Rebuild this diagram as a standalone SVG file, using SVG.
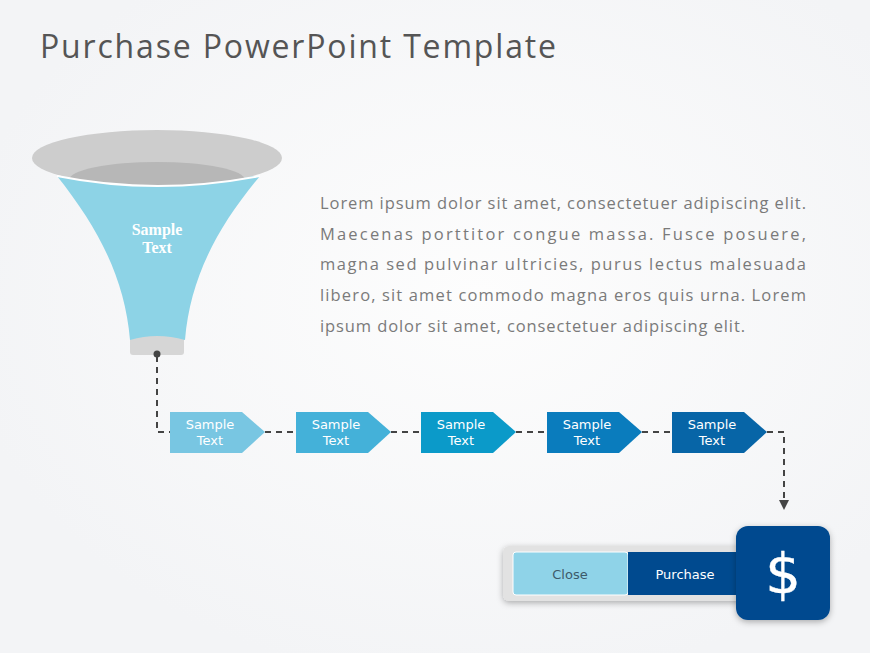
<svg xmlns="http://www.w3.org/2000/svg" width="870" height="653" viewBox="0 0 870 653">
<defs>
<style>
.t{font-family:"Open Sans","DejaVu Sans",sans-serif}
.p{font-family:"Open Sans","DejaVu Sans",sans-serif;font-size:16.5px;fill:#7a7a7a}
.a{font-family:"DejaVu Sans",sans-serif;font-size:13px;fill:#fff;text-anchor:middle}
.c{stroke:#444;stroke-width:2;stroke-dasharray:6,5;fill:none}
</style>
<radialGradient id="bg" cx="0.55" cy="0.45" r="0.6"><stop offset="0" stop-color="#fdfdfd"/><stop offset="1" stop-color="#f3f4f6"/></radialGradient>
<clipPath id="ec"><ellipse cx="157" cy="158" rx="125" ry="28"/></clipPath>
<filter id="sh" x="-20%" y="-20%" width="140%" height="140%"><feDropShadow dx="0" dy="2" stdDeviation="3" flood-color="#000" flood-opacity="0.3"/></filter>
</defs>
<rect width="870" height="653" fill="url(#bg)"/>
<text class="t" x="40" y="58" font-size="32" fill="#555" textLength="516" lengthAdjust="spacing">Purchase PowerPoint Template</text>
<g id="funnel">
<path d="M130,336 L184,336 L184,352 Q184,355 181,355 L133,355 Q130,355 130,352 Z" fill="#d6d6d6"/>
<path d="M57,176 L260,176 C215,230 190,280 185,340 Q157,332 130,340 C125,280 100,230 57,176 Z" fill="#8dd3e6"/>
<ellipse cx="157" cy="158" rx="125" ry="28" fill="#cdcdcd"/>
<ellipse cx="157" cy="180" rx="88" ry="18" fill="#b7b7b7" clip-path="url(#ec)"/>
<path d="M57,176 Q157,196 260,176" fill="none" stroke="#fff" stroke-width="2"/>
<text x="157" y="235" font-family="Liberation Serif,serif" font-weight="bold" font-size="16" fill="#fff" text-anchor="middle">Sample</text>
<text x="157" y="253" font-family="Liberation Serif,serif" font-weight="bold" font-size="16" fill="#fff" text-anchor="middle">Text</text>
</g>
<g id="paragraph" class="p">
<text x="320" y="209" textLength="486" lengthAdjust="spacing">Lorem ipsum dolor sit amet, consectetuer adipiscing elit.</text>
<text x="320" y="240" textLength="486" lengthAdjust="spacing">Maecenas porttitor congue massa. Fusce posuere,</text>
<text x="320" y="270" textLength="486" lengthAdjust="spacing">magna sed pulvinar ultricies, purus lectus malesuada</text>
<text x="320" y="301" textLength="486" lengthAdjust="spacing">libero, sit amet commodo magna eros quis urna. Lorem</text>
<text x="320" y="332" textLength="425" lengthAdjust="spacing">ipsum dolor sit amet, consectetuer adipiscing elit.</text>
</g>
<g id="connectors">
<circle cx="157" cy="354" r="3.5" fill="#444"/>
<path class="c" d="M157,356 V432 H170"/>
<path class="c" d="M265,432 H296 M391,432 H421 M516,432 H547 M642,432 H672"/>
<path class="c" d="M767,432 H784 V503"/>
<path d="M779,500 L789,500 L784,510 Z" fill="#444"/>
</g>
<g id="step1"><path d="M170,412 H242 L265,432 L242,453 H170 Z" fill="#78c6e2"/><text class="a" x="210" y="429">Sample</text><text class="a" x="210" y="445">Text</text></g>
<g id="step2"><path d="M296,412 H368 L391,432 L368,453 H296 Z" fill="#44b1d9"/><text class="a" x="336" y="429">Sample</text><text class="a" x="336" y="445">Text</text></g>
<g id="step3"><path d="M421,412 H493 L516,432 L493,453 H421 Z" fill="#0b9ac9"/><text class="a" x="461" y="429">Sample</text><text class="a" x="461" y="445">Text</text></g>
<g id="step4"><path d="M547,412 H619 L642,432 L619,453 H547 Z" fill="#0a7cbd"/><text class="a" x="587" y="429">Sample</text><text class="a" x="587" y="445">Text</text></g>
<g id="step5"><path d="M672,412 H744 L767,432 L744,453 H672 Z" fill="#0765a7"/><text class="a" x="712" y="429">Sample</text><text class="a" x="712" y="445">Text</text></g>
<g id="purchase-bar">
<rect x="503" y="546" width="242" height="55" rx="6" fill="#e2e2e2" filter="url(#sh)"/>
<rect x="513" y="552" width="115" height="43" rx="3" fill="#8fd3e8" stroke="#fff" stroke-width="1"/>
<rect x="628" y="552" width="117" height="43" fill="#004a8f"/>
<text x="570" y="579" font-family="DejaVu Sans,sans-serif" font-size="13" fill="#3d5a6a" text-anchor="middle">Close</text>
<text x="685" y="579" font-family="DejaVu Sans,sans-serif" font-size="13" fill="#fff" text-anchor="middle">Purchase</text>
</g>
<g id="dollar">
<rect x="736" y="526" width="94" height="94" rx="12" fill="#004a8f" filter="url(#sh)"/>
<text x="783" y="593" font-family="DejaVu Sans,sans-serif" font-size="56" fill="#fff" stroke="#fff" stroke-width="0.4" text-anchor="middle">$</text>
</g>
</svg>
